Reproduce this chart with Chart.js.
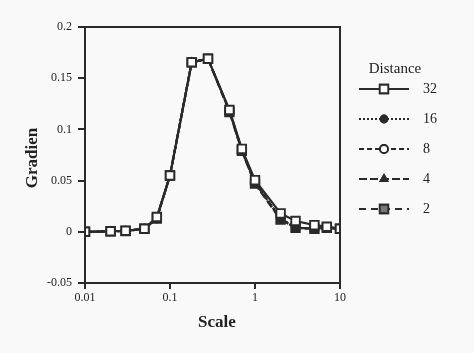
<!DOCTYPE html>
<html><head><meta charset="utf-8">
<script src="https://cdn.jsdelivr.net/npm/chart.js@4/dist/chart.umd.min.js"></script>
<style>html,body{margin:0;padding:0;background:#f9f9f9;}#wrap{width:474px;height:353px;}</style>
</head><body><div id="wrap"><canvas id="c" width="474" height="353"></canvas></div>
<script>
const scaleValues = [0.01, 0.02, 0.03, 0.05, 0.07, 0.1, 0.18, 0.28, 0.5, 0.7, 1, 2, 3, 5, 7, 10];
const seriesNames = ["32", "16", "8", "4", "2"];
const d32 = [0, 0.0005, 0.001, 0.003, 0.0145, 0.055, 0.1655, 0.169, 0.119, 0.081, 0.0505, 0.018, 0.0105, 0.0065, 0.005, 0.003];
const d16 = [0, 0.0005, 0.001, 0.003, 0.0135, 0.055, 0.1655, 0.169, 0.118, 0.080, 0.048, 0.013, 0.004, 0.003, 0.004, 0.003];
const d8  = [0, 0.0005, 0.0008, 0.003, 0.013, 0.055, 0.1655, 0.169, 0.118, 0.080, 0.048, 0.013, 0.004, 0.003, 0.004, 0.003];
const d4  = [0, 0.0005, 0.0008, 0.003, 0.013, 0.055, 0.1655, 0.169, 0.118, 0.079, 0.047, 0.012, 0.004, 0.003, 0.004, 0.003];
const d2  = [0, 0.0005, 0.0008, 0.003, 0.013, 0.055, 0.1655, 0.169, 0.117, 0.079, 0.047, 0.012, 0.004, 0.003, 0.004, 0.003];
const xTickValues = [0.01, 0.1, 1, 10];
const xTickLabels = ["0.01", "0.1", "1", "10"];
const yTickLabels = ["-0.05", "0", "0.05", "0.1", "0.15", "0.2"];
const xTitle = "Scale";
const yTitle = "Gradien";
const legendTitle = "Distance";

const ink = '#2a2a2a';
const pts = arr => arr.map((v, i) => ({x: scaleValues[i], y: v}));
const styles = [
  {data: d32, dash: [], ps: 'rect', fill: '#ffffff', r: 6},
  {data: d16, dash: [2, 2], ps: 'circle', fill: ink, r: 3.5},
  {data: d8, dash: [5, 3], ps: 'circle', fill: '#ffffff', r: 4},
  {data: d4, dash: [8, 3], ps: 'triangle', fill: ink, r: 4},
  {data: d2, dash: [7, 5], ps: 'rect', fill: '#777', r: 6}
];
const datasets = styles.map((s, i) => ({
  label: seriesNames[i],
  data: pts(s.data),
  borderColor: ink, borderWidth: 2.2, borderDash: s.dash,
  pointStyle: s.ps, pointRadius: s.r, pointBackgroundColor: s.fill,
  pointBorderColor: ink, pointBorderWidth: 1.9,
  showLine: true, tension: 0,
  order: i === 0 ? 0 : i + 1
}));

const framePlugin = {
  id: 'frame',
  afterDatasetsDraw(chart) {
    const {ctx, chartArea: a} = chart;
    ctx.save();
    ctx.strokeStyle = ink; ctx.lineWidth = 2;
    ctx.strokeRect(a.left, a.top, a.right - a.left, a.bottom - a.top);
    ctx.restore();
  },
  afterDraw(chart) {
    const ctx = chart.ctx;
    ctx.save();
    ctx.fillStyle = '#222';
    ctx.font = 'bold 17px "Liberation Serif"';
    ctx.textAlign = 'center'; ctx.textBaseline = 'middle';
    ctx.fillText(xTitle, 217, 323);
    ctx.save();
    ctx.translate(33, 158); ctx.rotate(-Math.PI / 2);
    ctx.fillText(yTitle, 0, 0);
    ctx.restore();
    ctx.font = '15px "Liberation Serif"';
    ctx.fillText(legendTitle, 395, 69);
    const x0 = 359, x1 = 409, xm = 384;
    chart.data.datasets.forEach((ds, i) => {
      const y = 89 + i * 30;
      ctx.strokeStyle = ink; ctx.lineWidth = 2;
      ctx.setLineDash(ds.borderDash);
      ctx.beginPath(); ctx.moveTo(x0, y); ctx.lineTo(x1, y); ctx.stroke();
      ctx.setLineDash([]);
      ctx.fillStyle = ds.pointBackgroundColor; ctx.strokeStyle = ink; ctx.lineWidth = 1.8;
      Chart.helpers.drawPoint(ctx, {pointStyle: ds.pointStyle, radius: ds.pointRadius, rotation: 0, borderWidth: 1.8}, xm, y);
      ctx.fill(); ctx.stroke();
      ctx.fillStyle = '#222';
      ctx.font = '14px "Liberation Serif"';
      ctx.textAlign = 'left';
      ctx.fillText(ds.label, 423, y);
    });
    ctx.restore();
  }
};

new Chart(document.getElementById('c'), {
  type: 'scatter',
  data: {datasets},
  options: {
    responsive: false, animation: false,
    layout: {padding: {top: 27, right: 134, left: 0, bottom: 0}},
    plugins: {legend: {display: false}, tooltip: {enabled: false}},
    scales: {
      x: {
        type: 'logarithmic', min: 0.01, max: 10,
        afterBuildTicks: s => { s.ticks = xTickValues.map(v => ({value: v})); },
        afterFit: s => { s.height = 70; },
        ticks: {color: '#222', font: {family: 'Liberation Serif', size: 12}, padding: 2,
          maxRotation: 0, autoSkip: false,
          callback: v => { const k = xTickValues.indexOf(v); return k >= 0 ? xTickLabels[k] : ''; }},
        grid: {drawOnChartArea: false, color: ink, lineWidth: 2, tickLength: 6},
        border: {color: ink, width: 2}
      },
      y: {
        min: -0.05, max: 0.2,
        afterBuildTicks: s => { s.ticks = yTickLabels.map(t => ({value: parseFloat(t)})); },
        afterFit: s => { s.width = 85; },
        ticks: {color: '#222', font: {family: 'Liberation Serif', size: 12}, padding: 6,
          callback: v => { const k = yTickLabels.findIndex(t => Math.abs(parseFloat(t) - v) < 1e-9); return k >= 0 ? yTickLabels[k] : ''; }},
        grid: {drawOnChartArea: false, color: ink, lineWidth: 2, tickLength: 7},
        border: {color: ink, width: 2}
      }
    }
  },
  plugins: [framePlugin]
});
</script></body></html>
